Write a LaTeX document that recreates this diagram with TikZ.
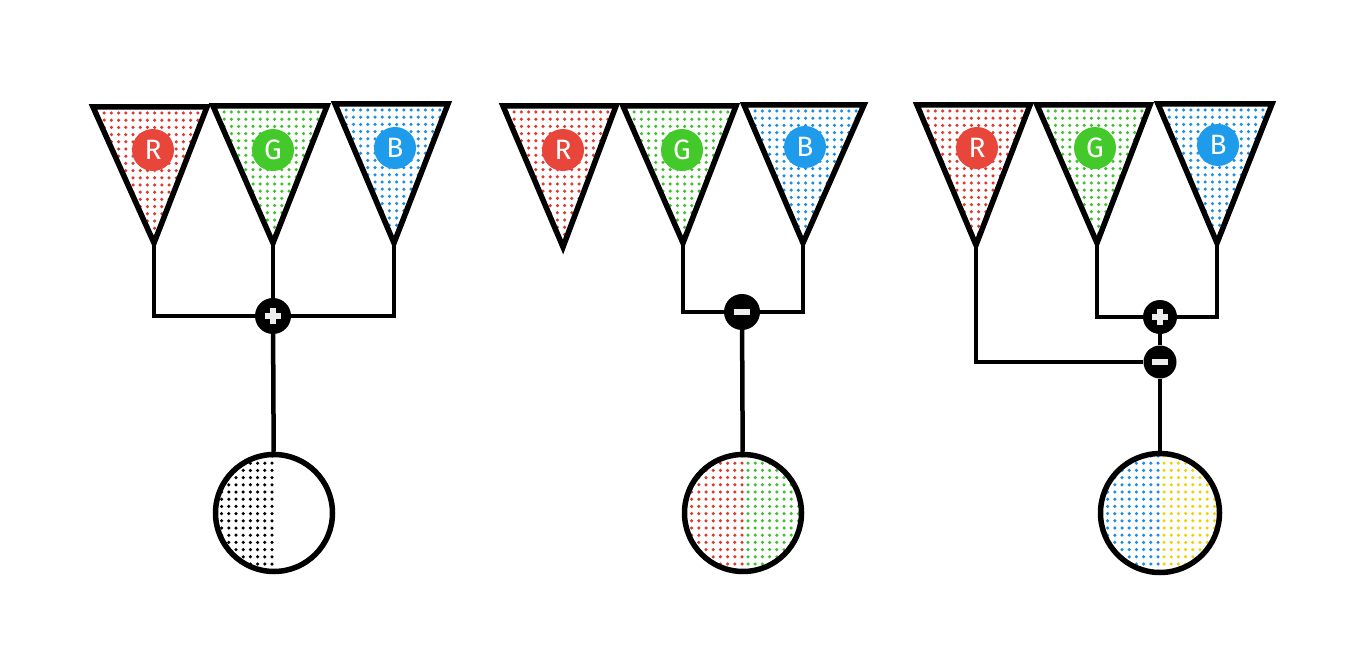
\documentclass[tikz,border=0pt]{standalone}
\usepackage{fontspec}
\newfontfamily\letterfont{Fira Sans}
\definecolor{dred}{HTML}{E0382E}
\definecolor{dgreen}{HTML}{3CC22A}
\definecolor{dblue}{HTML}{1A8FE3}
\definecolor{dyellow}{HTML}{F0D200}
\definecolor{cred}{HTML}{E8463B}
\definecolor{cgreen}{HTML}{44C92B}
\definecolor{cblue}{HTML}{1E9BEA}
\definecolor{signw}{HTML}{EDEDED}
\tikzset{
  wire/.style={draw=black, line width=4.5pt},
  tribox/.style={draw=black, line width=5.5pt, line join=miter},
  letterdot/.style={circle, minimum size=42pt, inner sep=0pt, text=white,
    font=\letterfont\fontsize{28}{28}\selectfont},
  opnode/.style={circle, fill=black, minimum size=36pt, inner sep=0pt},
  signline/.style={draw=signw, line width=5.5pt},
  outcirc/.style={circle, draw=black, line width=5.5pt, minimum size=117pt, inner sep=0pt}
}
\newcommand\dotfield[5]{%
  \foreach \i in {0,...,#4}{\foreach \j in {0,...,#5}{%
    \fill[#1] ({#2+\i*7.2},{#3+\j*7.2}) circle (1.75);}}}
% name, colour, xleft, xright, ytop, xapex, yapex
\newcommand\pennant[7]{%
  \begin{scope}
    \clip (#3,#5) -- (#4,#5) -- (#6,#7) -- cycle;
    \dotfield{#2}{#3+4}{#5+6}{15}{19}
  \end{scope}
  \draw[tribox] (#3,#5) -- (#4,#5) -- (#6,#7) -- cycle;
  \coordinate (#1) at (#6,#7);}
\newcommand\plussign[1]{%
  \draw[signline] ([xshift=-8pt]#1.center) -- ([xshift=8pt]#1.center);
  \draw[signline] ([yshift=-8pt]#1.center) -- ([yshift=8pt]#1.center);}
\newcommand\minussign[1]{%
  \draw[signline] ([xshift=-8pt]#1.center) -- ([xshift=8pt]#1.center);}
\begin{document}
\begin{tikzpicture}[x=1pt,y=-1pt]
\useasboundingbox (0,0) rectangle (1358,650);
\fill[white] (0,0) rectangle (1358,650);

% ---------- group 1 ----------
\pennant{R1}{dred}{93}{207}{107}{154}{243}
\pennant{G1}{dgreen}{213}{327}{106}{273}{243}
\pennant{B1}{dblue}{335}{448}{104}{394}{243}
\node[letterdot, fill=cred]   (lR1) at (153,150) {R};
\node[letterdot, fill=cgreen] (lG1) at (273,150) {G};
\node[letterdot, fill=cblue]  (lB1) at (395,148) {B};
\node[opnode] (p1) at (273,316) {};
\plussign{p1}
\begin{scope}
  \clip (274,513) circle (58);
  \clip (200,440) rectangle (274.5,590);
  \dotfield{black}{214.4}{456}{8}{16}
\end{scope}
\node[outcirc] (o1) at (274,513) {};
\draw[wire] (R1) |- (p1);
\draw[wire] (G1) -- (p1);
\draw[wire] (B1) |- (p1);
\draw[wire] (p1) -- (o1);

% ---------- group 2 ----------
\pennant{R2}{dred}{503}{616}{106}{563}{247}
\pennant{G2}{dgreen}{623}{736}{106}{683}{243}
\pennant{B2}{dblue}{744}{864}{105}{803}{243}
\node[letterdot, fill=cred]   (lR2) at (563,150) {R};
\node[letterdot, fill=cgreen] (lG2) at (682,150) {G};
\node[letterdot, fill=cblue]  (lB2) at (805,147) {B};
\node[opnode] (m2) at (742,312) {};
\minussign{m2}
\begin{scope}
  \clip (744,513) circle (58);
  \clip (680,440) rectangle (744.5,590);
  \dotfield{dred}{684.4}{456}{8}{16}
\end{scope}
\begin{scope}
  \clip (744,513) circle (58);
  \clip (744.5,440) rectangle (810,590);
  \dotfield{dgreen}{748}{456}{8}{16}
\end{scope}
\node[outcirc] (o2) at (743,513) {};
\draw[wire] (G2) |- (m2);
\draw[wire] (B2) |- (m2);
\draw[wire] (m2) -- (o2);

% ---------- group 3 ----------
\pennant{R3}{dred}{917}{1030}{105}{976}{245}
\pennant{G3}{dgreen}{1037}{1150}{105}{1097}{243}
\pennant{B3}{dblue}{1158}{1272}{104}{1217}{243}
\node[letterdot, fill=cred]   (lR3) at (977,148) {R};
\node[letterdot, fill=cgreen] (lG3) at (1095,148) {G};
\node[letterdot, fill=cblue]  (lB3) at (1218,145) {B};
\node[opnode, minimum size=34pt] (p3) at (1160,317) {};
\plussign{p3}
\node[opnode, minimum size=33pt] (m3) at (1160,362) {};
\minussign{m3}
\begin{scope}
  \clip (1160,513) circle (59);
  \clip (1090,440) rectangle (1160.5,590);
  \dotfield{dblue}{1100.4}{456}{8}{16}
\end{scope}
\begin{scope}
  \clip (1160,513) circle (59);
  \clip (1160.5,440) rectangle (1230,590);
  \dotfield{dyellow}{1164}{456}{8}{16}
\end{scope}
\node[outcirc, minimum size=119pt] (o3) at (1160,513) {};
\draw[wire] (R3) |- (m3);
\draw[wire] (G3) |- (p3);
\draw[wire] (B3) |- (p3);
\draw[wire] (p3) -- (m3);
\draw[wire] (m3) -- (o3);
\end{tikzpicture}
\end{document}
